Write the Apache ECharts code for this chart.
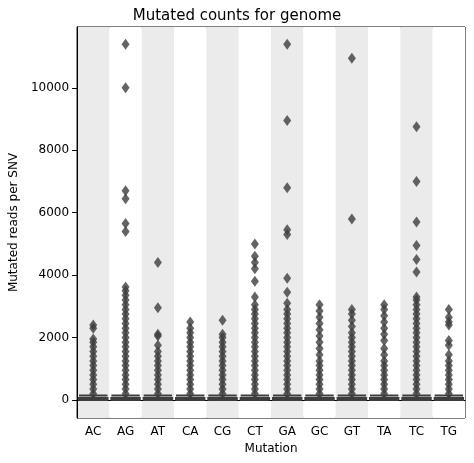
<!DOCTYPE html>
<html>
<head>
<meta charset="utf-8">
<script src="https://cdn.jsdelivr.net/npm/echarts@6/dist/echarts.min.js"></script>
<style>html,body{margin:0;padding:0;background:#fff}#main{width:474px;height:463px}</style>
</head>
<body>
<div id="main"></div>
<script>
const categories = ['AC', 'AG', 'AT', 'CA', 'CG', 'CT', 'GA', 'GC', 'GT', 'TA', 'TC', 'TG'];
// [whisker low, Q1, median, Q3, whisker high]
const boxStats = [0, 5, 20, 60, 140];
// outliers per category
const outliers = {
  AC: [200, 350, 500, 650, 800, 950, 1100, 1250, 1400, 1550, 1700, 1850, 1950, 2300, 2400],
  AG: [200, 350, 500, 650, 800, 950, 1100, 1250, 1400, 1550, 1700, 1850, 2000, 2150, 2300, 2450, 2600, 2750, 2900, 3050, 3200, 3350, 3500, 3620, 5400, 5650, 6450, 6700, 10000, 11400],
  AT: [200, 350, 500, 650, 800, 950, 1100, 1250, 1400, 1550, 1750, 2050, 2100, 2950, 4400],
  CA: [200, 350, 500, 650, 800, 950, 1100, 1250, 1400, 1550, 1700, 1850, 2000, 2150, 2300, 2500],
  CG: [200, 350, 500, 650, 800, 950, 1100, 1250, 1400, 1550, 1700, 1850, 2000, 2100, 2550],
  CT: [200, 350, 500, 650, 800, 950, 1100, 1250, 1400, 1550, 1700, 1850, 2000, 2150, 2300, 2450, 2600, 2750, 2900, 3050, 3300, 3800, 4200, 4400, 4600, 5000],
  GA: [200, 350, 500, 650, 800, 950, 1100, 1250, 1400, 1550, 1700, 1850, 2000, 2150, 2300, 2450, 2600, 2750, 2900, 3100, 3450, 3900, 5300, 5450, 6800, 8950, 11400],
  GC: [200, 350, 500, 650, 800, 950, 1100, 1250, 1450, 1650, 1850, 2050, 2250, 2450, 2650, 2850, 3050],
  GT: [200, 350, 500, 650, 800, 950, 1100, 1250, 1400, 1550, 1700, 1850, 2000, 2150, 2350, 2550, 2750, 2900, 5800, 10950],
  TA: [200, 350, 500, 650, 800, 950, 1100, 1250, 1450, 1650, 1900, 2100, 2300, 2500, 2700, 2900, 3050],
  TC: [200, 350, 500, 650, 800, 950, 1100, 1250, 1400, 1550, 1700, 1850, 2000, 2150, 2300, 2450, 2600, 2750, 2900, 3050, 3200, 3300, 4100, 4500, 4950, 5700, 7000, 8750],
  TG: [200, 350, 500, 650, 800, 950, 1100, 1250, 1450, 1750, 1900, 2400, 2500, 2650, 2900]
};
const yTicks = [0, 2000, 4000, 6000, 8000, 10000];

const outlierPoints = [];
categories.forEach((c, i) => outliers[c].forEach(v => outlierPoints.push([i, v])));

const chart = echarts.init(document.getElementById('main'));
chart.setOption({
  animation: false,
  title: { text: 'Mutated counts for genome', left: 'center', top: 4, textStyle: { fontSize: 15, fontWeight: 'normal', color: '#000', fontFamily: 'DejaVu Sans' } },
  grid: { left: 70, right: 9, top: 27, bottom: 45, show: true, borderColor: '#000', borderWidth: 1, backgroundColor: 'transparent' },
  xAxis: {
    type: 'category', data: categories,
    name: 'Mutation', nameLocation: 'middle', nameGap: 23,
    nameTextStyle: { fontSize: 12, color: '#000', fontFamily: 'DejaVu Sans' },
    axisLine: { lineStyle: { color: '#000' } },
    axisTick: { alignWithLabel: true, lineStyle: { color: '#000' } },
    axisLabel: { fontSize: 12, color: '#000', fontFamily: 'DejaVu Sans' },
    splitArea: { show: true, areaStyle: { color: ['#ebebeb', '#ffffff'] } }
  },
  yAxis: {
    type: 'value', min: -580, max: 11950,
    name: 'Mutated reads per SNV', nameLocation: 'middle', nameGap: 50,
    nameTextStyle: { fontSize: 12, color: '#000', fontFamily: 'DejaVu Sans' },
    axisLine: { show: true, lineStyle: { color: '#000' } },
    axisTick: { show: true, customValues: yTicks, lineStyle: { color: '#000' } },
    axisLabel: { customValues: yTicks, formatter: v => String(v), fontSize: 12, color: '#000', fontFamily: 'DejaVu Sans' },
    splitLine: { show: false }
  },
  series: [
    {
      type: 'boxplot', data: categories.map(() => boxStats), boxWidth: ['88%', '88%'],
      itemStyle: { color: '#5a5a5a', borderColor: '#3d3d3d', borderWidth: 2 }
    },
    {
      type: 'scatter', data: outlierPoints, symbol: 'diamond', symbolSize: [8, 11],
      itemStyle: { color: '#3d3d3d' }
    }
  ]
});
</script>
</body>
</html>
